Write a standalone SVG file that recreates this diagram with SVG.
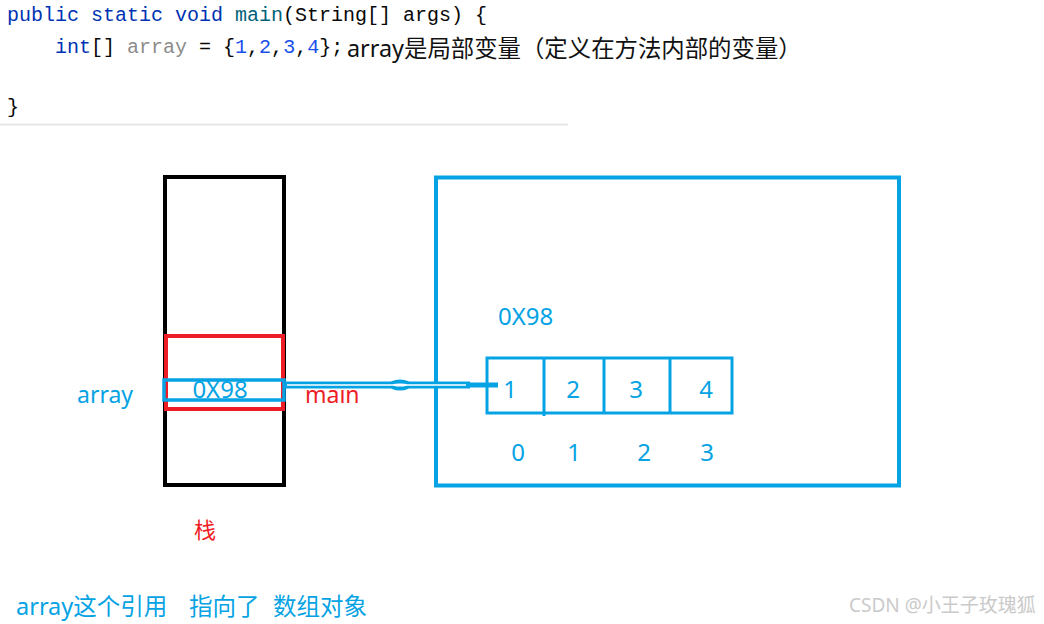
<svg xmlns="http://www.w3.org/2000/svg" width="1044" height="624" viewBox="0 0 1044 624">
<style>
.code{font-family:"Liberation Mono","DejaVu Sans Mono",monospace;font-size:20px;fill:#080808}
.kw{fill:#0033b3}.fn{fill:#00627a}.var{fill:#8c8c8c}.num{fill:#1750eb}
.sans{font-family:"Noto Sans","Noto Sans CJK SC",sans-serif}
.blue{fill:#05a3e4}.red{fill:#ee1c25}
.lbl{font-size:23px}
.cell{fill:none;stroke:#05a3e4;stroke-width:3}
</style>
<rect width="1044" height="624" fill="#fff"/>
<g id="code">
<text class="code" x="7" y="21"><tspan class="kw">public static void </tspan><tspan class="fn">main</tspan>(String[] args) {</text>
<text class="code" x="55" y="53"><tspan class="kw">int</tspan>[] <tspan class="var">array</tspan> = {<tspan class="num">1</tspan>,<tspan class="num">2</tspan>,<tspan class="num">3</tspan>,<tspan class="num">4</tspan>};</text>
<text class="code" x="7" y="113">}</text>
<text class="sans" x="347" y="57" font-size="23.4" fill="#111">array是局部变量（定义在方法内部的变量）</text>
<line x1="0" y1="124.5" x2="568" y2="124.5" stroke="#e6e6e6" stroke-width="2"/>
</g>
<g id="stack">
<rect x="165" y="177" width="119" height="308" fill="none" stroke="#000" stroke-width="4"/>
<text class="sans red" x="194" y="538" font-size="22">栈</text>
</g>
<g id="main-frame">
<rect x="166" y="336" width="117" height="73" fill="none" stroke="#ee1c25" stroke-width="4"/>
<text class="sans red lbl" x="305" y="403">main</text>
</g>
<g id="array-ref">
<svg x="164" y="381" width="120" height="18" overflow="hidden">
<text class="sans blue" x="56" y="17" font-size="24" text-anchor="middle">0X98</text>
</svg>
<rect x="164" y="380" width="120" height="20" fill="none" stroke="#05a3e4" stroke-width="3.5"/>
<text class="sans blue lbl" x="77" y="403">array</text>
</g>
<g id="heap">
<rect x="436" y="177.5" width="463" height="308" fill="none" stroke="#05a3e4" stroke-width="4"/>
<text class="sans blue" x="498" y="325" font-size="24">0X98</text>
</g>
<g id="array-object">
<rect class="cell" x="487" y="358" width="245" height="55"/>
<line class="cell" x1="544" y1="358" x2="544" y2="416"/>
<line class="cell" x1="604" y1="358" x2="604" y2="413"/>
<line class="cell" x1="670" y1="358" x2="670" y2="413"/>
<g class="sans blue" font-size="24" text-anchor="middle">
<text x="510" y="398">1</text>
<text x="573" y="398">2</text>
<text x="636" y="398">3</text>
<text x="706" y="398">4</text>
<text x="518" y="461">0</text>
<text x="574" y="461">1</text>
<text x="644" y="461">2</text>
<text x="707" y="461">3</text>
</g>
</g>
<g id="connectors">
<path d="M285 385 H470" stroke="#05a3e4" stroke-width="7" fill="none"/>
<ellipse cx="400" cy="385" rx="11" ry="5.5" fill="#05a3e4"/>
<path d="M287 385 H468" stroke="#fff" stroke-width="1.6" fill="none"/>
<ellipse cx="400" cy="385" rx="7" ry="1.6" fill="#fff"/>
<path d="M466 385 H498" stroke="#05a3e4" stroke-width="5" fill="none"/>
</g>
<g id="caption" class="sans blue" font-size="23.5">
<text x="16" y="615">array这个引用</text>
<text x="189" y="615">指向了</text>
<text x="273" y="615">数组对象</text>
</g>
<text class="sans" x="849" y="612" font-size="19" fill="#cacaca">CSDN @小王子玫瑰狐</text>
</svg>
